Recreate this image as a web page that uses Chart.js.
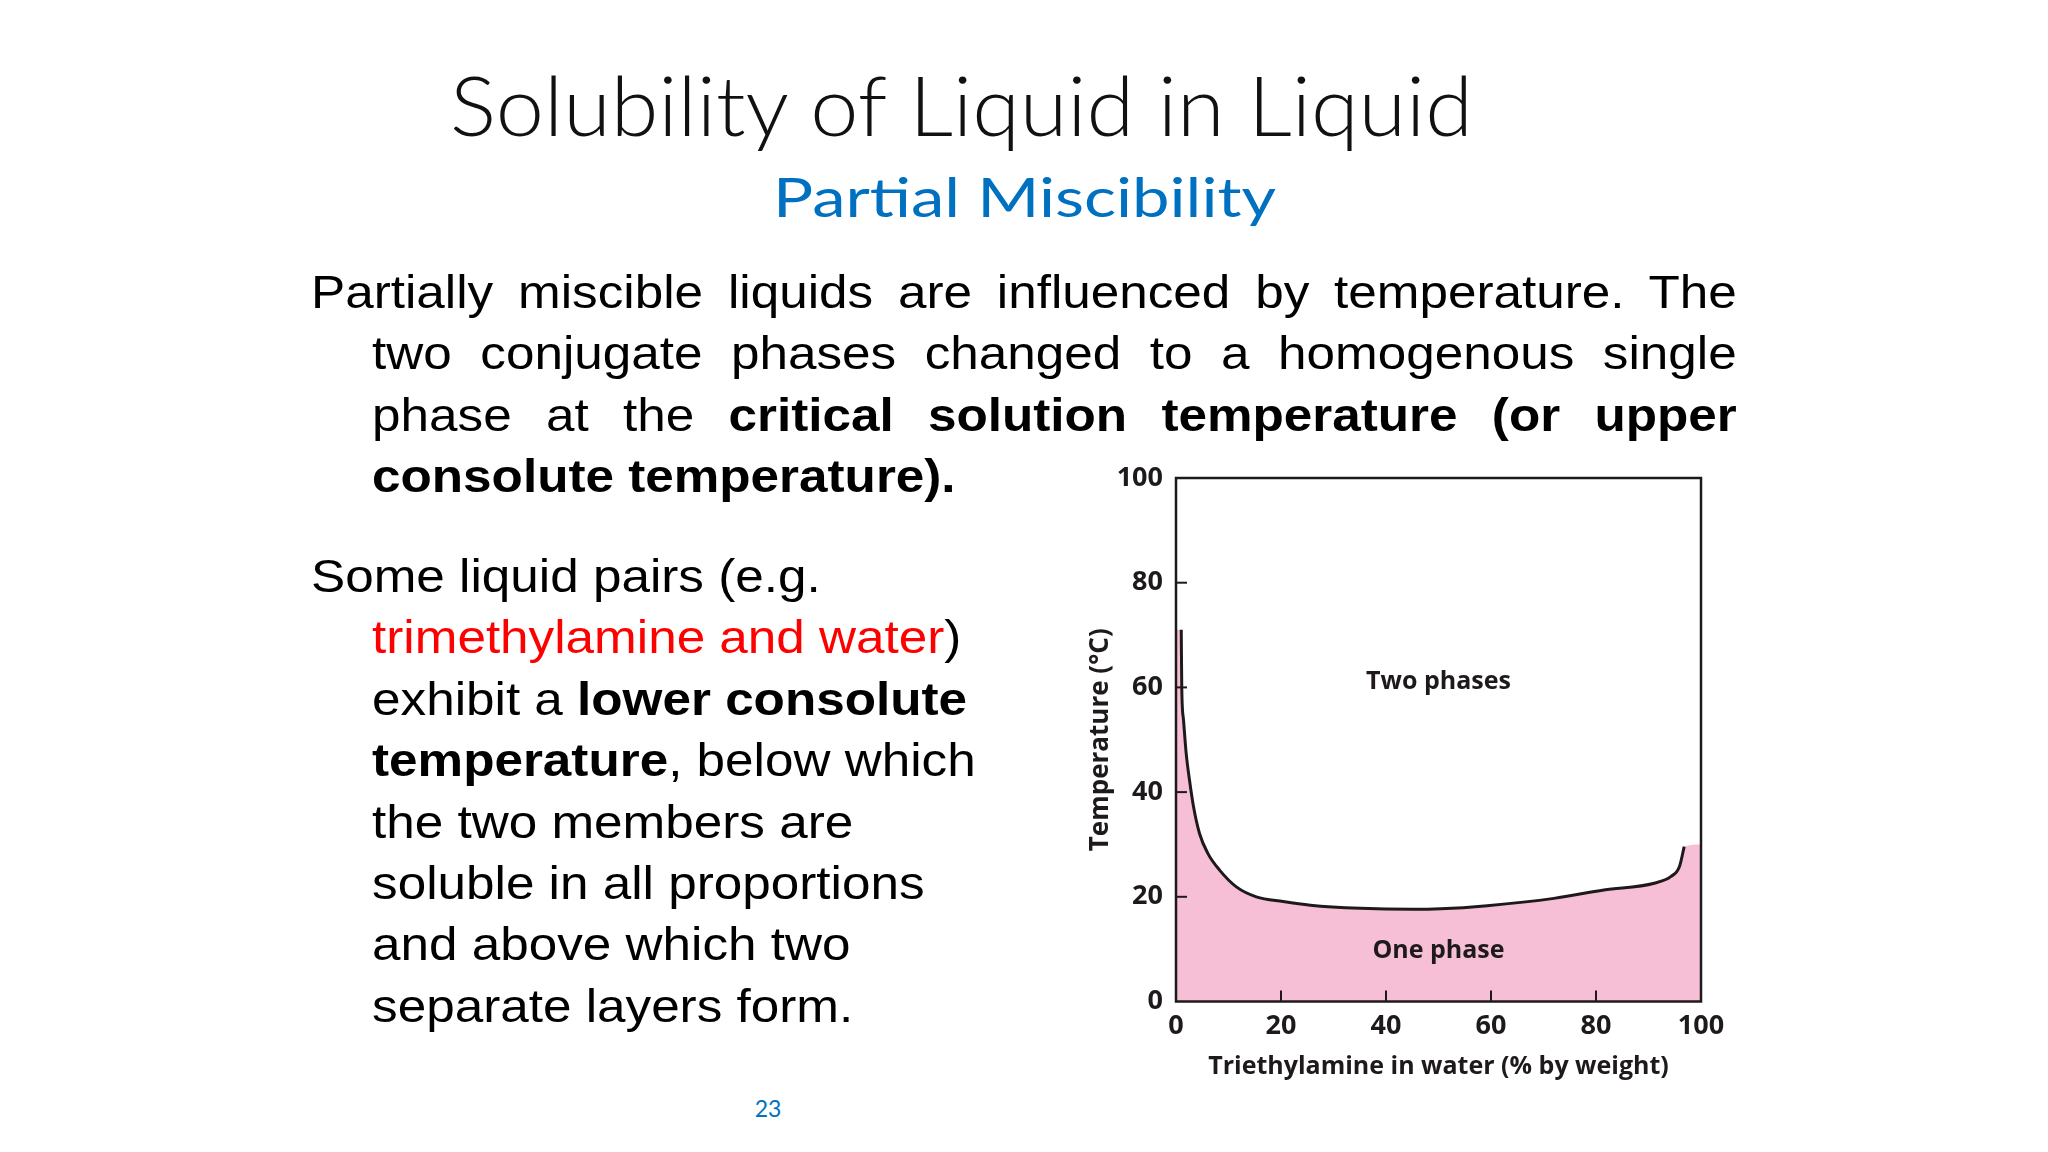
<!DOCTYPE html>
<html>
<head>
<meta charset="utf-8">
<script src="https://cdn.jsdelivr.net/npm/chart.js@4.4.1/dist/chart.umd.min.js"></script>
<style>
html,body{margin:0;padding:0;background:#fff;width:2048px;height:1152px;overflow:hidden;}
.abs{position:absolute;white-space:nowrap;}
#title{font-family:Lato,"Open Sans",sans-serif;font-weight:300;font-size:82px;line-height:1.2;left:450px;top:55px;color:#111;transform-origin:0 0;}
#subtitle{font-family:Lato,"Open Sans",sans-serif;font-weight:400;font-size:55px;line-height:1.2;left:773px;top:163px;color:#0070C0;transform-origin:0 0;}
.para{position:absolute;font-family:"Liberation Sans",Arial,sans-serif;font-size:47px;line-height:61.4px;color:#000;transform:scaleX(1.09);transform-origin:0 0;}
.para div{white-space:nowrap;}
#p1{left:311px;top:261px;width:1308px;}
#p1 .j{text-align:justify;text-align-last:justify;white-space:normal;}
#p1 .ind,#p2 .ind{margin-left:56px;}
#p2{left:311px;top:545px;width:700px;}
.red{color:#ff0000;}
#pnum{font-family:Lato,sans-serif;font-size:23px;line-height:1.2;left:738px;width:60px;text-align:center;top:1095px;color:#0070C0;}
#chartBox{position:absolute;left:1040px;top:440px;width:720px;height:660px;}
</style>
</head>
<body>
<div id="title" class="abs" data-w="1023">Solubility of Liquid in Liquid</div>
<div id="subtitle" class="abs" data-w="503">Partial Miscibility</div>

<div id="p1" class="para">
  <div class="j">Partially miscible liquids are influenced by temperature. The</div>
  <div class="j ind">two conjugate phases changed to a homogenous single</div>
  <div class="j ind">phase at the <b>critical solution temperature (or upper</b></div>
  <div class="ind"><b>consolute temperature).</b></div>
</div>

<div id="p2" class="para">
  <div>Some liquid pairs (e.g.</div>
  <div class="ind"><span class="red">trimethylamine and water</span>)</div>
  <div class="ind">exhibit a <b>lower consolute</b></div>
  <div class="ind"><b>temperature</b>, below which</div>
  <div class="ind">the two members are</div>
  <div class="ind">soluble in all proportions</div>
  <div class="ind">and above which two</div>
  <div class="ind">separate layers form.</div>
</div>

<div id="pnum" class="abs">23</div>

<div id="chartBox"><canvas id="c" width="720" height="660"></canvas></div>

<script>
// ---- data ----
const compositionPct = [1.0, 1.1, 1.43, 1.94, 2.57, 3.34, 4.48, 6.06, 8.3, 11.5, 15.3, 20.4, 25.6, 35.1, 45.0, 50.4, 59.3, 72.0, 81.5, 91.1, 94.3, 95.9, 96.8];
const temperatureC   = [71,  59.8, 53.8, 47.4, 42.3, 37.2, 32.1, 28.3, 25.1, 21.9, 20.0, 19.1, 18.4, 17.8, 17.6, 17.7, 18.3, 19.7, 21.3, 22.6, 23.9, 25.8, 29.6];
const onePhaseLeftTemp = 71;   // one-phase region at 0 %
const onePhaseRightTemp = 30;  // one-phase region at 100 %
const axisMin = 0, axisMax = 100, axisStep = 20;
const regionLabels = ['Two phases', 'One phase'];
const regionLabelX = [50, 50];
const regionLabelY = [61, 9.7];
const xTitle = 'Triethylamine in water (% by weight)';
const yTitle = 'Temperature (\u00B0C)';

// fit heading widths
document.querySelectorAll('[data-w]').forEach(el => {
  const w = el.getBoundingClientRect().width;
  const target = +el.dataset.w;
  el.style.transform = 'scaleX(' + (target / w) + ')';
});

const curve = compositionPct.map((x, i) => ({x, y: temperatureC[i]}));
const fillData = [{x: axisMin, y: onePhaseLeftTemp}].concat(curve, [{x: axisMax, y: onePhaseRightTemp}]);

const ink = '#1e1a1c';
const chartFont = '"Open Sans", sans-serif';

const framePlugin = {
  id: 'frame',
  afterDatasetsDraw(chart) {
    const {ctx, chartArea: a, scales: {x, y}} = chart;
    ctx.save();
    ctx.strokeStyle = ink;
    ctx.lineWidth = 2.5;
    ctx.strokeRect(a.left, a.top, a.right - a.left, a.bottom - a.top);
    ctx.lineWidth = 2;
    const tl = 11;
    x.ticks.forEach(t => {
      if (t.value <= axisMin || t.value >= axisMax) return;
      const px = x.getPixelForValue(t.value);
      ctx.beginPath(); ctx.moveTo(px, a.bottom); ctx.lineTo(px, a.bottom - tl); ctx.stroke();
    });
    y.ticks.forEach(t => {
      if (t.value <= axisMin || t.value >= axisMax) return;
      const py = y.getPixelForValue(t.value);
      ctx.beginPath(); ctx.moveTo(a.left, py); ctx.lineTo(a.left + tl, py); ctx.stroke();
    });
    ctx.fillStyle = ink;
    ctx.font = '700 25px ' + chartFont;
    ctx.textAlign = 'center';
    ctx.textBaseline = 'middle';
    regionLabels.forEach((s, i) => {
      ctx.fillText(s, x.getPixelForValue(regionLabelX[i]), y.getPixelForValue(regionLabelY[i]));
    });
    ctx.restore();
  }
};

new Chart(document.getElementById('c'), {
  type: 'line',
  data: {
    datasets: [
      {
        data: fillData,
        borderWidth: 0,
        borderColor: 'rgba(0,0,0,0)',
        backgroundColor: '#f6bfd6',
        fill: 'origin',
        pointRadius: 0,
        cubicInterpolationMode: 'monotone',
        order: 2
      },
      {
        data: curve,
        borderWidth: 3,
        borderColor: ink,
        fill: false,
        pointRadius: 0,
        cubicInterpolationMode: 'monotone',
        order: 1
      }
    ]
  },
  plugins: [framePlugin],
  options: {
    responsive: false,
    animation: false,
    devicePixelRatio: 1,
    layout: {padding: {left: 0, top: 38, right: 59, bottom: 0}},
    plugins: {legend: {display: false}, tooltip: {enabled: false}},
    scales: {
      x: {
        type: 'linear', min: axisMin, max: axisMax,
        grid: {display: false},
        border: {display: false},
        ticks: {stepSize: axisStep, padding: 1, color: ink, font: {family: chartFont, size: 27, weight: '700'}, maxRotation: 0},
        title: {display: true, text: xTitle, color: ink, padding: {top: 0, bottom: 18}, font: {family: chartFont, size: 25, weight: '700'}},
        afterFit(s) { s.height = 98.5; }
      },
      y: {
        type: 'linear', min: axisMin, max: axisMax,
        grid: {display: false},
        border: {display: false},
        ticks: {stepSize: axisStep, padding: 5, color: ink, font: {family: chartFont, size: 27, weight: '700'}},
        title: {display: true, text: yTitle, color: ink, padding: {top: 45, bottom: 0}, font: {family: chartFont, size: 26, weight: '700'}},
        afterFit(s) { s.width = 136; }
      }
    }
  }
});
</script>
</body>
</html>
